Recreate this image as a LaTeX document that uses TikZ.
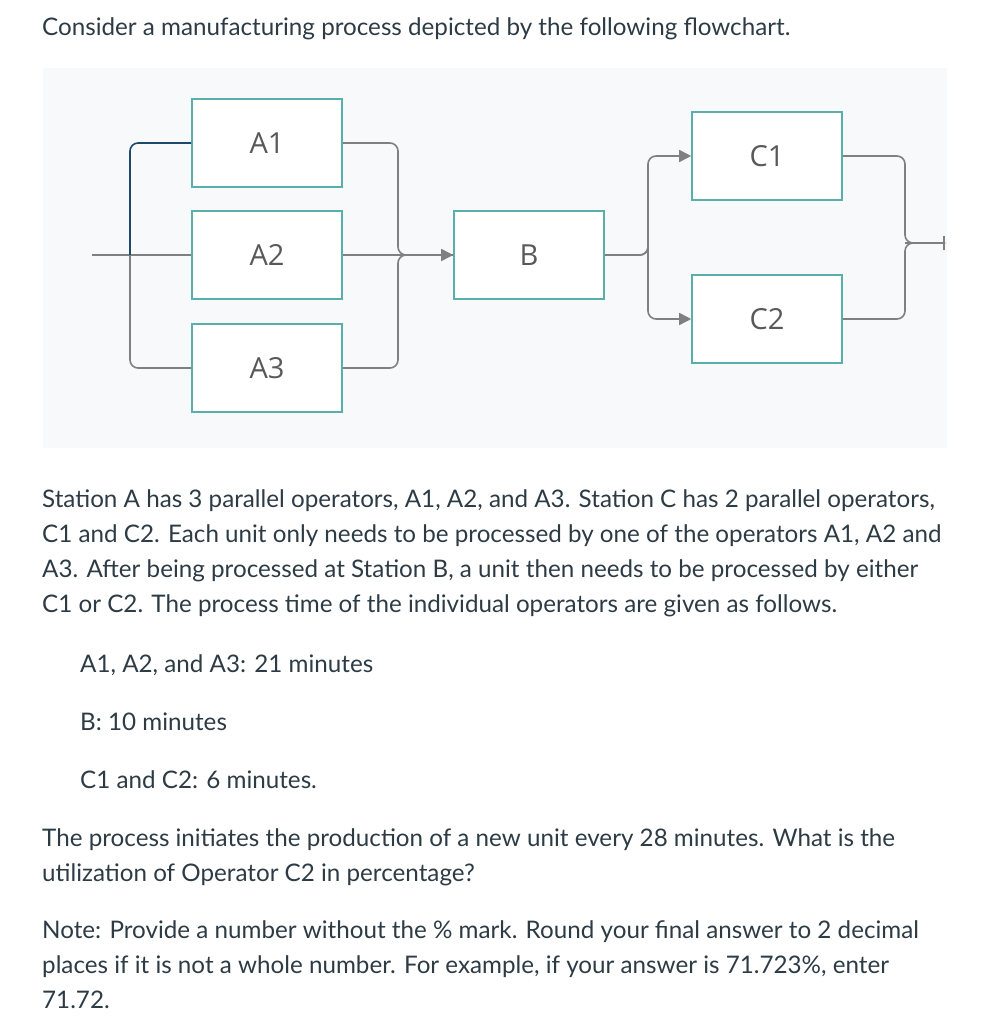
\documentclass[tikz,border=0pt]{standalone}
\usepackage{fontspec}
\setmainfont{Lato}
\newfontfamily\boxfont{Open Sans}
\usetikzlibrary{arrows.meta}

\definecolor{panelbg}{HTML}{F8F9FB}
\definecolor{boxline}{HTML}{5AAFAB}
\definecolor{flowgray}{HTML}{808080}
\definecolor{flowblue}{HTML}{1D4A6B}
\definecolor{textdark}{HTML}{2D3B45}
\definecolor{labelgray}{HTML}{595959}

\tikzset{
  station/.style={draw=boxline, line width=1.6pt, fill=white,
    minimum width=150pt, minimum height=88pt, inner sep=0pt,
    text=labelgray, font=\boxfont\fontsize{29}{29}\selectfont},
  flow/.style={draw=flowgray, line width=1.6pt, rounded corners=8pt},
  flowarrow/.style={flow, -{Triangle[length=12pt,width=12pt]}},
  para/.style={anchor=base west, text=textdark, inner sep=0pt,
    font=\fontsize{24.2}{28}\selectfont},
}

\begin{document}
\begin{tikzpicture}[x=1pt,y=-1pt]
    \useasboundingbox (0,0) rectangle (1007,1024);
    \fill[panelbg] (43,68) rectangle (947,448);

    \node[para] (intro) at (42,36) {Consider a manufacturing process depicted by the following flowchart.};

    % stations
    \node[station] (A1) at (267,143) {A1};
    \node[station] (A2) at (267,255) {A2};
    \node[station] (A3) at (267,368) {A3};
    \node[station] (B) at (529,255) {B};
    \node[station] (C1) at (767,156) {C1};
    \node[station] (C2) at (767,319) {C2};

    \coordinate (start) at (92,255);
    \coordinate (split) at (130,255);
    \coordinate (merge) at (398,255);
    \coordinate (fork) at (648,255);
    \coordinate (join) at (905,243);
    \coordinate (finish) at (945,243);

    % station A
    \draw[flow] (start) -- (A2.west);
    \draw[flow, draw=flowblue] (split) |- (A1.west);
    \draw[flow] (split) |- (A3.west);
    \draw[flow] (A1.east) -| (merge) -- (B.west);
    \draw[flow] (A3.east) -| (merge) -- (B.west);
    \draw[flowarrow] (A2.east) -- (B.west);

    % station C
    \draw[flowarrow] (B.east) -| (fork) |- (C1.west);
    \draw[flowarrow] (B.east) -| (fork) |- (C2.west);
    \draw[flow] (C1.east) -| (join) -- (finish);
    \draw[flow] (C2.east) -| (join) -- (finish);
    \draw[flow, -{Bar[width=14pt]}] (join) -- (finish);

    % question text
    \node[para] (s1) at (42,507) {Station A has 3 parallel operators, A1, A2, and A3. Station C has 2 parallel operators,};
    \node[para] (s2) at (42,542) {C1 and C2. Each unit only needs to be processed by one of the operators A1, A2 and};
    \node[para] (s3) at (42,577) {A3. After being processed at Station B, a unit then needs to be processed by either};
    \node[para] (s4) at (42,612) {C1 or C2. The process time of the individual operators are given as follows.};

    \node[para] (tA) at (80,672) {A1, A2, and A3: 21 minutes};
    \node[para] (tB) at (80,730) {B: 10 minutes};
    \node[para] (tC) at (80,788) {C1 and C2: 6 minutes.};

    \node[para] (q1) at (42,846) {The process initiates the production of a new unit every 28 minutes. What is the};
    \node[para] (q2) at (42,881) {utilization of Operator C2 in percentage?};

    \node[para] (n1) at (42,938) {Note: Provide a number without the \% mark. Round your final answer to 2 decimal};
    \node[para] (n2) at (42,973) {places if it is not a whole number. For example, if your answer is 71.723\%, enter};
    \node[para] (n3) at (42,1008) {71.72.};
\end{tikzpicture}
\end{document}
